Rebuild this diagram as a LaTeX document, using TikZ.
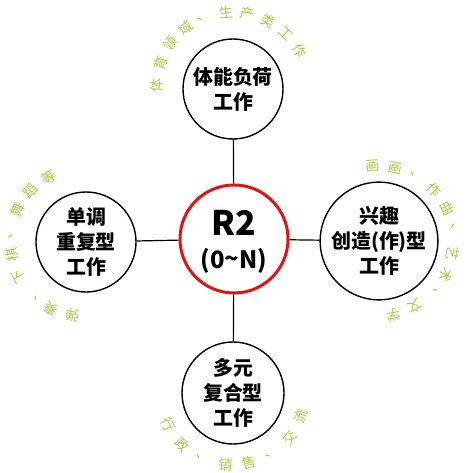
\documentclass[tikz,border=0pt]{standalone}
\usepackage{fontspec}
\newfontfamily\cjk{Noto Sans CJK SC}
\definecolor{leafgreen}{RGB}{165,205,75}
\definecolor{hubred}{RGB}{225,20,20}
\tikzset{
  rolebox/.style={circle, draw=black, line width=1.4bp, minimum size=100bp, inner sep=0pt, align=center,
    font=\cjk\bfseries\fontsize{20}{25}\selectfont},
  hub/.style={circle, draw=hubred, line width=3bp, minimum size=108bp, inner sep=0pt, align=center,
    font=\cjk\bfseries\fontsize{24}{33}\selectfont},
  arcchar/.style={font=\cjk\fontsize{14}{14}\selectfont, text=leafgreen, inner sep=0pt},
  link/.style={line width=1.2bp, draw=black}
}
\begin{document}
\begin{tikzpicture}[x=1bp, y=-1bp]
\useasboundingbox (0,0) rectangle (474,473);
% nodes
\node[hub] (H) at (234,239) {};
\node[align=center, font=\cjk\bfseries\fontsize{24}{33}\selectfont] (Htxt) at (234,242) {{\fontsize{34}{34}\selectfont R2}\\(0\raisebox{0.05em}{\textasciitilde}N)};
\node[rolebox] (T) at (233,89) {体能负荷\\工作};
\node[rolebox] (L) at (86,242) {单调\\重复型\\工作};
\node[rolebox] (R) at (379,241) {兴趣\\创造(作)型\\工作};
\node[rolebox, minimum size=102bp] (B) at (233,393) {多元\\复合型\\工作};
% connectors
\draw[link] (T) -- (H);
\draw[link] (H) -- (B);
\draw[link] (L) -- (H);
\draw[link] (H) -- (R);
% curved captions
\foreach \c [count=\i from 0] in {体,育,领,域,、,生,产,类,工,作} {
  \pgfmathsetmacro\a{177-\i*16.33}
  \path (T) ++(\a:77bp) node[arcchar, rotate=\a-90] (tc\i) {\c};
}
\foreach \c [count=\i from 0] in {画,画,、,作,曲,、,艺,术,、,文,学} {
  \pgfmathsetmacro\a{95-\i*17.4}
  \path (R) ++(\a:75bp) node[arcchar, rotate=\a-90] (rc\i) {\c};
}
\foreach \c [count=\i from 0] in {弹,奏,、,下,棋,、,舞,蹈,等} {
  \pgfmathsetmacro\a{260-\i*17.5}
  \path (L) ++(\a:75bp) node[arcchar, rotate=\a-90] (lc\i) {\c};
}
\foreach \c [count=\i from 0] in {行,政,、,销,售,、,交,流} {
  \pgfmathsetmacro\a{206+\i*19.3}
  \path (B) ++(\a:72bp) node[arcchar, rotate=\a+90] (bc\i) {\c};
}
\end{tikzpicture}
\end{document}
